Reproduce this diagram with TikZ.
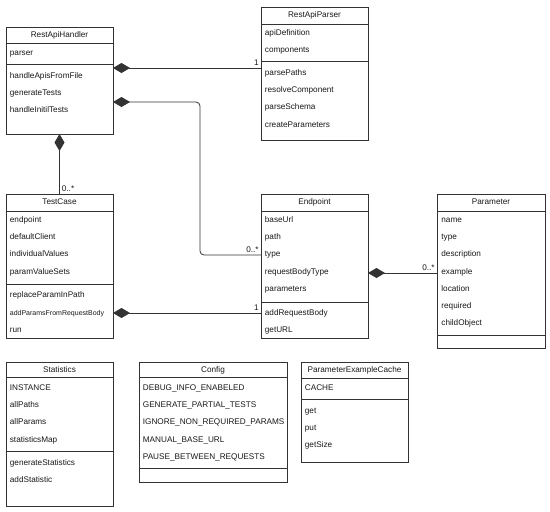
\documentclass[tikz,border=0pt]{standalone}
\usepackage{fontspec}
\setmainfont{Liberation Sans}
\usetikzlibrary{arrows.meta}

\begin{document}
\begin{tikzpicture}[x=1pt, y=-1pt,
    line width=.8pt, color=black!80,
    cls/.style={draw, fill=white, anchor=north west, inner sep=0pt, outer sep=0pt},
    title/.style={font=\fontsize{8.2}{9}\selectfont, text=black!90, inner sep=0pt,
      text height=5.8pt, text depth=1.6pt},
    row/.style={font=\fontsize{8.2}{9}\selectfont, text=black!90, anchor=west, inner sep=0pt,
      text height=5.8pt, text depth=1.6pt},
    comp/.style={arrows={Diamond[length=17pt, width=10pt]-}},
    mult/.style={font=\fontsize{8.2}{9}\selectfont, text=black!90, inner sep=2pt},
  ]
    \useasboundingbox (0,0) rectangle (550,512);

    % RestApiHandler
    \node[cls, minimum width=107, minimum height=107] (handler) at (6,27) {};
    \node[title] (handler-t) at (handler.north |- 0,35) {RestApiHandler};
    \draw (handler.west |- 0,43.5) -- (handler.east |- 0,43.5)
          (handler.west |- 0,64) -- (handler.east |- 0,64);
    \foreach \t [count=\k from 0] in {parser}
        \node[row] (handler-a\k) at (9.5,{53+17.3*\k}) {\t};
    \foreach \t [count=\k from 0] in {handleApisFromFile,generateTests,handleInitilTests}
        \node[row] (handler-m\k) at (9.5,{76+17.3*\k}) {\t};

    % RestApiParser
    \node[cls, minimum width=107, minimum height=133] (apiparser) at (261,7) {};
    \node[title] (apiparser-t) at (apiparser.north |- 0,15.5) {RestApiParser};
    \draw (apiparser.west |- 0,24) -- (apiparser.east |- 0,24)
          (apiparser.west |- 0,61) -- (apiparser.east |- 0,61);
    \foreach \t [count=\k from 0] in {apiDefinition,components}
        \node[row] (apiparser-a\k) at (264.5,{33+17.3*\k}) {\t};
    \foreach \t [count=\k from 0] in {parsePaths,resolveComponent,parseSchema,createParameters}
        \node[row] (apiparser-m\k) at (264.5,{73+17.3*\k}) {\t};

    % TestCase
    \node[cls, minimum width=107, minimum height=144] (testcase) at (6,194) {};
    \node[title] (testcase-t) at (testcase.north |- 0,202.5) {TestCase};
    \draw (testcase.west |- 0,211.5) -- (testcase.east |- 0,211.5)
          (testcase.west |- 0,284) -- (testcase.east |- 0,284);
    \foreach \t [count=\k from 0] in {endpoint,defaultClient,individualValues,paramValueSets}
        \node[row] (testcase-a\k) at (9.5,{220+17.3*\k}) {\t};
    \node[row] (testcase-m0) at (9.5,295) {replaceParamInPath};
    \node[row, font=\fontsize{7}{8}\selectfont] (testcase-m1) at (9.5,313) {addParamsFromRequestBody};
    \node[row] (testcase-m2) at (9.5,330) {run};

    % Endpoint
    \node[cls, minimum width=107, minimum height=144] (endpoint) at (261,194) {};
    \node[title] (endpoint-t) at (endpoint.north |- 0,202.5) {Endpoint};
    \draw (endpoint.west |- 0,211.5) -- (endpoint.east |- 0,211.5)
          (endpoint.west |- 0,302) -- (endpoint.east |- 0,302);
    \foreach \t [count=\k from 0] in {baseUrl,path,type,requestBodyType,parameters}
        \node[row] (endpoint-a\k) at (264.5,{220+17.3*\k}) {\t};
    \foreach \t [count=\k from 0] in {addRequestBody,getURL}
        \node[row] (endpoint-m\k) at (264.5,{313+17.3*\k}) {\t};

    % Parameter
    \node[cls, minimum width=108, minimum height=154] (parameter) at (437,194) {};
    \node[title] (parameter-t) at (parameter.north |- 0,202.5) {Parameter};
    \draw (parameter.west |- 0,211.5) -- (parameter.east |- 0,211.5)
          (parameter.west |- 0,335) -- (parameter.east |- 0,335);
    \foreach \t [count=\k from 0] in {name,type,description,example,location,required,childObject}
        \node[row] (parameter-a\k) at (441,{220+17.3*\k}) {\t};

    % Statistics
    \node[cls, minimum width=107, minimum height=144] (statistics) at (6,362) {};
    \node[title] (statistics-t) at (statistics.north |- 0,370) {Statistics};
    \draw (statistics.west |- 0,377.5) -- (statistics.east |- 0,377.5)
          (statistics.west |- 0,451) -- (statistics.east |- 0,451);
    \foreach \t [count=\k from 0] in {INSTANCE,allPaths,allParams,statisticsMap}
        \node[row] (statistics-a\k) at (9.5,{388+17.3*\k}) {\t};
    \foreach \t [count=\k from 0] in {generateStatistics,addStatistic}
        \node[row] (statistics-m\k) at (9.5,{463+17.3*\k}) {\t};

    % Config
    \node[cls, minimum width=148, minimum height=120] (config) at (139,362) {};
    \node[title] (config-t) at (config.north |- 0,370) {Config};
    \draw (config.west |- 0,377.5) -- (config.east |- 0,377.5)
          (config.west |- 0,468) -- (config.east |- 0,468);
    \foreach \t [count=\k from 0] in {DEBUG\_INFO\_ENABELED,GENERATE\_PARTIAL\_TESTS,
        IGNORE\_NON\_REQUIRED\_PARAMS,MANUAL\_BASE\_URL,PAUSE\_BETWEEN\_REQUESTS}
        \node[row] (config-a\k) at (142.5,{388+17.3*\k}) {\t};

    % ParameterExampleCache
    \node[cls, minimum width=107, minimum height=100] (cache) at (301,362) {};
    \node[title] (cache-t) at (cache.north |- 0,370.5) {ParameterExampleCache};
    \draw (cache.west |- 0,378) -- (cache.east |- 0,378)
          (cache.west |- 0,399) -- (cache.east |- 0,399);
    \node[row] (cache-a0) at (304.5,388) {CACHE};
    \foreach \t [count=\k from 0] in {get,put,getSize}
        \node[row] (cache-m\k) at (304.5,{411+17.3*\k}) {\t};

    % compositions
    \draw[comp] (handler.east |- 0,68) -- (apiparser.west |- 0,68)
        node[mult, above left] (m1) {1};
    \draw[comp, rounded corners=4] (handler.east |- 0,102) -| (200,255) -- (endpoint.west |- 0,255)
        node[mult, above left] (m2) {0..*};
    \draw[comp] (handler.south) -- (testcase.north)
        node[mult, above right] (m3) {0..*};
    \draw[comp] (testcase.east |- 0,313) -- (endpoint.west |- 0,313)
        node[mult, above left] (m4) {1};
    \draw[comp] (endpoint.east |- 0,273) -- (parameter.west |- 0,273)
        node[mult, above left] (m5) {0..*};
\end{tikzpicture}
\end{document}
